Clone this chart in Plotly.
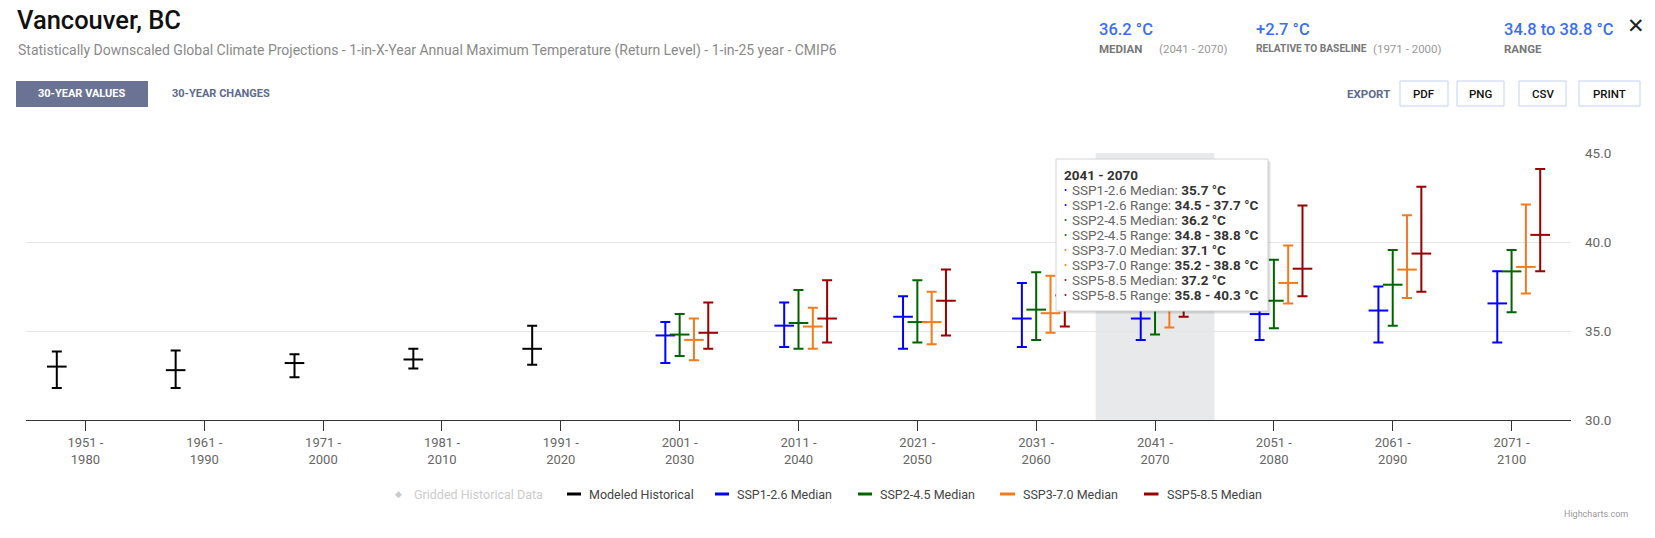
import plotly.graph_objects as go

# ---------------- data ----------------
periods = ["1951 - 1980", "1961 - 1990", "1971 - 2000", "1981 - 2010", "1991 - 2020",
           "2001 - 2030", "2011 - 2040", "2021 - 2050", "2031 - 2060", "2041 - 2070",
           "2051 - 2080", "2061 - 2090", "2071 - 2100"]
tick_labels = [p.replace(" - ", " -<br>") for p in periods]

hist_idx = [0, 1, 2, 3, 4]
hist_median = [33.0, 32.8, 33.2, 33.4, 34.0]
hist_low = [31.8, 31.8, 32.4, 32.9, 33.1]
hist_high = [33.85, 33.9, 33.7, 34.0, 35.3]

proj_idx = [5, 6, 7, 8, 9, 10, 11, 12]
ssp126_median = [34.75, 35.3, 35.8, 35.7, 35.7, 35.95, 36.15, 36.55]
ssp126_low = [33.2, 34.1, 34.0, 34.1, 34.5, 34.5, 34.35, 34.35]
ssp126_high = [35.5, 36.6, 36.95, 37.7, 37.7, 37.6, 37.5, 38.35]
ssp245_median = [34.8, 35.45, 35.5, 36.2, 36.2, 36.7, 37.6, 38.35]
ssp245_low = [33.6, 34.0, 34.35, 34.5, 34.8, 35.15, 35.3, 36.05]
ssp245_high = [35.95, 37.3, 37.85, 38.3, 38.8, 39.0, 39.55, 39.55]
ssp370_median = [34.5, 35.25, 35.5, 36.0, 37.1, 37.7, 38.45, 38.6]
ssp370_low = [33.35, 34.0, 34.25, 34.9, 35.2, 36.55, 36.85, 37.1]
ssp370_high = [35.7, 36.3, 37.2, 38.1, 38.8, 39.8, 41.5, 42.1]
ssp585_median = [34.9, 35.7, 36.7, 37.0, 37.2, 38.5, 39.35, 40.4]
ssp585_low = [34.0, 34.35, 34.75, 35.25, 35.8, 36.95, 37.2, 38.35]
ssp585_high = [36.6, 37.85, 38.45, 39.3, 40.3, 42.05, 43.1, 44.1]

y_ticks = [30, 35, 40, 45]
highlight_idx = 9

# ---------------- styling ----------------
FONT = "Roboto"
SLOT = 0.1204  # horizontal slot width (category units)
W, H = 1655, 538
ML, MR, MT, MB = 26, 84, 153, 118
PW, PH = W - ML - MR, H - MT - MB


def X(px):
    return (px - ML) / PW


def Y(py):
    return (H - MB - py) / PH


series = [
    ("Modeled Historical", "#000000", -2, hist_idx, hist_median, hist_low, hist_high),
    ("SSP1-2.6 Median", "#0000ff", -1, proj_idx, ssp126_median, ssp126_low, ssp126_high),
    ("SSP2-4.5 Median", "#006400", 0, proj_idx, ssp245_median, ssp245_low, ssp245_high),
    ("SSP3-7.0 Median", "#f57a1c", 1, proj_idx, ssp370_median, ssp370_low, ssp370_high),
    ("SSP5-8.5 Median", "#990000", 2, proj_idx, ssp585_median, ssp585_low, ssp585_high),
]

fig = go.Figure()
for name, color, slot, idx, med, lo, hi in series:
    fig.add_trace(go.Scatter(
        x=[i + slot * SLOT for i in idx], y=med, name=name, mode="markers",
        marker=dict(symbol="line-ew", size=14, color=color,
                    line=dict(width=2, color=color)),
        error_y=dict(type="data", symmetric=False,
                     array=[h - m for h, m in zip(hi, med)],
                     arrayminus=[m - l for m, l in zip(med, lo)],
                     color=color, thickness=2, width=5),
        showlegend=False, hoverinfo="skip",
    ))

shapes = []
annotations = []

# hovered category band
shapes.append(dict(type="rect", xref="x", yref="y", x0=highlight_idx - 0.5, x1=highlight_idx + 0.5,
                   y0=y_ticks[0], y1=y_ticks[-1], fillcolor="#e8e9eb", line=dict(width=0), layer="below"))


# ---------------- header ----------------
def text(px, py, s, size, color, anchor="left", bold=False, family=FONT, weight=None):
    f = dict(family=family, size=size, color=color)
    if weight:
        f["weight"] = weight
    annotations.append(dict(xref="paper", yref="paper", x=X(px), y=Y(py), text=("<b>%s</b>" % s) if bold else s,
                            xanchor=anchor, yanchor="middle", showarrow=False, font=f))


def rect(x0, y0, x1, y1, fill, line=None, layer="above"):
    shapes.append(dict(type="rect", xref="paper", yref="paper", x0=X(x0), x1=X(x1), y0=Y(y1), y1=Y(y0),
                       fillcolor=fill, line=dict(width=1 if line else 0, color=line or fill), layer=layer))


text(15, 20, "Vancouver, BC", 25.5, "#111111", weight=500)
text(16, 51, "Statistically Downscaled Global Climate Projections - 1-in-X-Year Annual Maximum Temperature "
             "(Return Level) - 1-in-25 year - CMIP6", 14, "#8a8a8a")

rect(16, 81, 148, 107, "#6b7394")
text(82, 94, "30-YEAR VALUES", 11, "#ffffff", anchor="center", bold=True)
text(221, 94, "30-YEAR CHANGES", 11, "#5d6b8f", anchor="center", bold=True)

blue = "#3c6ef5"
text(1097, 29, "36.2 °C", 16.5, blue, weight=500)
text(1097, 48.5, "MEDIAN", 11.5, "#777777", bold=True)
text(1157, 48.5, "(2041 - 2070)", 11.5, "#999999")
text(1254, 29, "+2.7 °C", 16.5, blue, weight=500)
text(1254, 48.5, "RELATIVE TO BASELINE", 10.2, "#777777", bold=True)
text(1371, 48.5, "(1971 - 2000)", 11.5, "#999999")
text(1502, 29, "34.8 to 38.8 °C", 16.5, blue, weight=500)
text(1502, 48.5, "RANGE", 11.5, "#777777", bold=True)
text(1636, 26, "✕", 21, "#222222", anchor="center", family="DejaVu Sans")

text(1368, 94, "EXPORT", 11.5, "#5d6b8f", anchor="center", bold=True)
for label, x0, x1 in [("PDF", 1400, 1448), ("PNG", 1457, 1504), ("CSV", 1519, 1566), ("PRINT", 1579, 1640)]:
    rect(x0, 81, x1, 106, "#ffffff", line="#c5d0f3")
    text((x0 + x1) / 2, 94, label, 11.5, "#111111", anchor="center", weight=500)

# ---------------- legend ----------------
LEG_Y = 494
text(398.5, LEG_Y, "◆", 9, "#cccccc", anchor="center", family="DejaVu Sans")
text(412, LEG_Y, "Gridded Historical Data", 12.5, "#cccccc")
for (name, color, *_), (x0, x1) in zip(series, [(567, 581), (715, 729), (858, 872), (1000, 1015), (1144, 1158.5)]):
    shapes.append(dict(type="line", xref="paper", yref="paper", x0=X(x0), x1=X(x1), y0=Y(LEG_Y), y1=Y(LEG_Y),
                       line=dict(color=color, width=3)))
    text(x1 + 6, LEG_Y, name, 12.5, "#444444")

text(1630, 514, "Highcharts.com", 9, "#999999", anchor="right")

# ---------------- tooltip ----------------
TX0, TY0, TX1, TY1 = 1056, 159, 1268, 311
for k in (3, 2, 1):
    rect(TX0 + k, TY0 + k, TX1 + k, TY1 + k, "rgba(0,0,0,0.06)")
rect(TX0, TY0, TX1, TY1, "#ffffff", line="#d4d4d4")
j = proj_idx.index(highlight_idx)
text(1062, 174.5, periods[highlight_idx], 13.5, "#333333", bold=True)
lines = []
for name, color, slot, idx, med, lo, hi in series[1:]:
    nm = name.replace(" Median", "")
    lines.append((color, "%s Median: " % nm, "%.1f °C" % med[j]))
    lines.append((color, "%s Range: " % nm, "%.1f - %.1f °C" % (lo[j], hi[j])))
for k, (color, label, val) in enumerate(lines):
    py = 189.5 + 15 * k
    text(1065, py, "•", 9, color, anchor="center")
    text(1070, py, "<span style='color:#666666'>%s</span><b>%s</b>" % (label, val), 13.5, "#333333")

fig.update_layout(
    width=W, height=H, margin=dict(l=ML, r=MR, t=MT, b=MB, autoexpand=False),
    paper_bgcolor="#ffffff", plot_bgcolor="#ffffff",
    font=dict(family=FONT, size=13, color="#666666"),
    shapes=shapes, annotations=annotations,
    xaxis=dict(range=[-0.5, len(periods) - 0.5], tickmode="array", tickvals=list(range(len(periods))),
               ticktext=tick_labels, ticks="outside", ticklen=10, tickcolor="#333333", tickwidth=1,
               showline=True, linecolor="#333333", linewidth=1, showgrid=False, zeroline=False,
               tickfont=dict(family=FONT, size=13, color="#666666"), fixedrange=True),
    yaxis=dict(range=[y_ticks[0], y_ticks[-1]], side="right", tickmode="array", tickvals=y_ticks,
               tickformat=".1f", ticksuffix=" °C", showgrid=True, gridcolor="#e6e6e6", gridwidth=1,
               zeroline=False, showline=False, ticks="", ticklabelstandoff=13,
               tickfont=dict(family=FONT, size=13.5, color="#666666"), fixedrange=True),
    showlegend=False, hovermode=False,
)

fig.write_html("out.html", config={"displayModeBar": False})
